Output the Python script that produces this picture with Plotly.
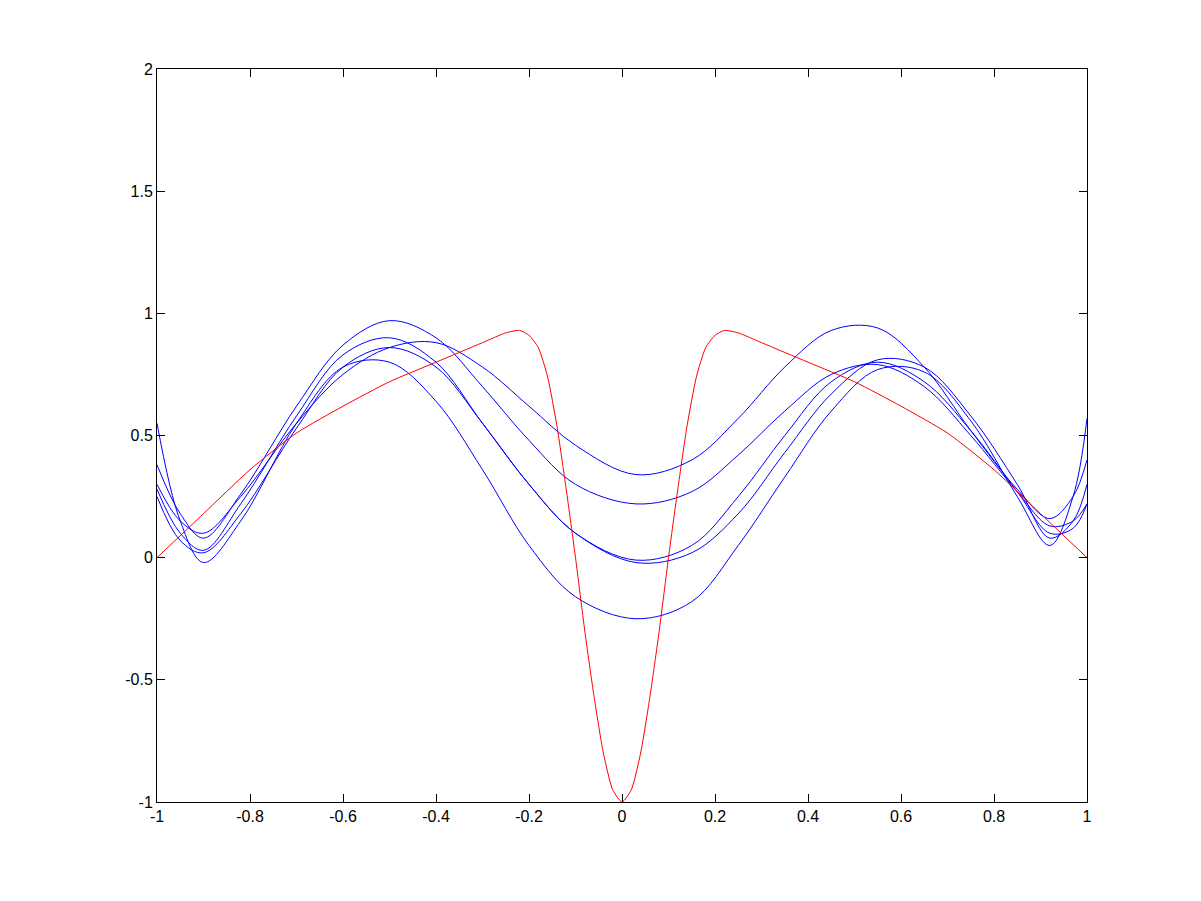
import plotly.graph_objects as go

red_x = [-1, -0.9, -0.8, -0.7, -0.6, -0.5, -0.4, -0.3, -0.25, -0.22, -0.2, -0.18, -0.16, -0.14, -0.12, -0.1, -0.08, -0.06, -0.04, -0.02, 0,
         0.02, 0.04, 0.06, 0.08, 0.1, 0.12, 0.14, 0.16, 0.18, 0.2, 0.22, 0.25, 0.3, 0.4, 0.5, 0.6, 0.7, 0.8, 0.9, 1]
red_y = [0, 0.18, 0.36, 0.51, 0.62, 0.72, 0.8, 0.88, 0.92, 0.93, 0.91, 0.86, 0.74, 0.54, 0.28, 0.0, -0.3, -0.57, -0.8, -0.95, -1,
         -0.95, -0.8, -0.57, -0.3, 0.0, 0.28, 0.54, 0.74, 0.86, 0.91, 0.93, 0.92, 0.88, 0.8, 0.72, 0.62, 0.51, 0.36, 0.18, 0]

blue_x = [-1, -0.95, -0.9, -0.82, -0.7, -0.6, -0.5, -0.4, -0.3, -0.2, -0.1, 0.03, 0.15, 0.25, 0.35, 0.45, 0.55, 0.65, 0.75, 0.85, 0.92, 0.97, 1]
blue_series = [
    [0.30, 0.15, 0.10, 0.25, 0.55, 0.75, 0.86, 0.88, 0.78, 0.62, 0.46, 0.34, 0.40, 0.57, 0.78, 0.93, 0.94, 0.78, 0.52, 0.28, 0.16, 0.25, 0.40],
    [0.38, 0.18, 0.08, 0.26, 0.62, 0.87, 0.97, 0.90, 0.70, 0.48, 0.30, 0.22, 0.27, 0.42, 0.60, 0.75, 0.79, 0.70, 0.50, 0.27, 0.13, 0.15, 0.22],
    [0.28, 0.10, 0.03, 0.22, 0.58, 0.83, 0.90, 0.80, 0.55, 0.30, 0.10, -0.01, 0.05, 0.25, 0.50, 0.72, 0.80, 0.72, 0.52, 0.27, 0.10, 0.12, 0.22],
    [0.25, 0.07, 0.02, 0.18, 0.53, 0.78, 0.86, 0.78, 0.55, 0.30, 0.10, -0.02, 0.02, 0.18, 0.43, 0.67, 0.81, 0.78, 0.58, 0.30, 0.08, 0.15, 0.30],
    [0.55, 0.15, -0.02, 0.15, 0.55, 0.78, 0.80, 0.64, 0.36, 0.05, -0.16, -0.25, -0.18, 0.05, 0.33, 0.60, 0.77, 0.76, 0.56, 0.25, 0.05, 0.25, 0.57],
]

x_ticks = [-1, -0.8, -0.6, -0.4, -0.2, 0, 0.2, 0.4, 0.6, 0.8, 1]
x_labels = ["-1", "-0.8", "-0.6", "-0.4", "-0.2", "0", "0.2", "0.4", "0.6", "0.8", "1"]
y_ticks = [-1, -0.5, 0, 0.5, 1, 1.5, 2]
y_labels = ["-1", "-0.5", "0", "0.5", "1", "1.5", "2"]

fig = go.Figure()
for ys in blue_series:
    fig.add_trace(go.Scatter(x=blue_x, y=ys, mode="lines", line=dict(color="#0000ff", width=1, shape="spline")))
fig.add_trace(go.Scatter(x=red_x, y=red_y, mode="lines", line=dict(color="#ff0000", width=1, shape="spline", smoothing=0.6)))

axis = dict(showgrid=False, zeroline=False, showline=True, linecolor="black", linewidth=1, mirror="ticks",
            ticks="inside", ticklen=8, tickcolor="black", tickfont=dict(family="Liberation Sans, Arial", size=16, color="black"))
fig.update_layout(
    width=1201, height=901, paper_bgcolor="white", plot_bgcolor="white", showlegend=False,
    margin=dict(l=149, r=122, t=61, b=107, pad=0),
    xaxis=dict(range=[-1, 1], tickmode="array", tickvals=x_ticks, ticktext=x_labels, **axis),
    yaxis=dict(range=[-1, 2], tickmode="array", tickvals=y_ticks, ticktext=y_labels, **axis),
)
fig.write_html("out.html")
